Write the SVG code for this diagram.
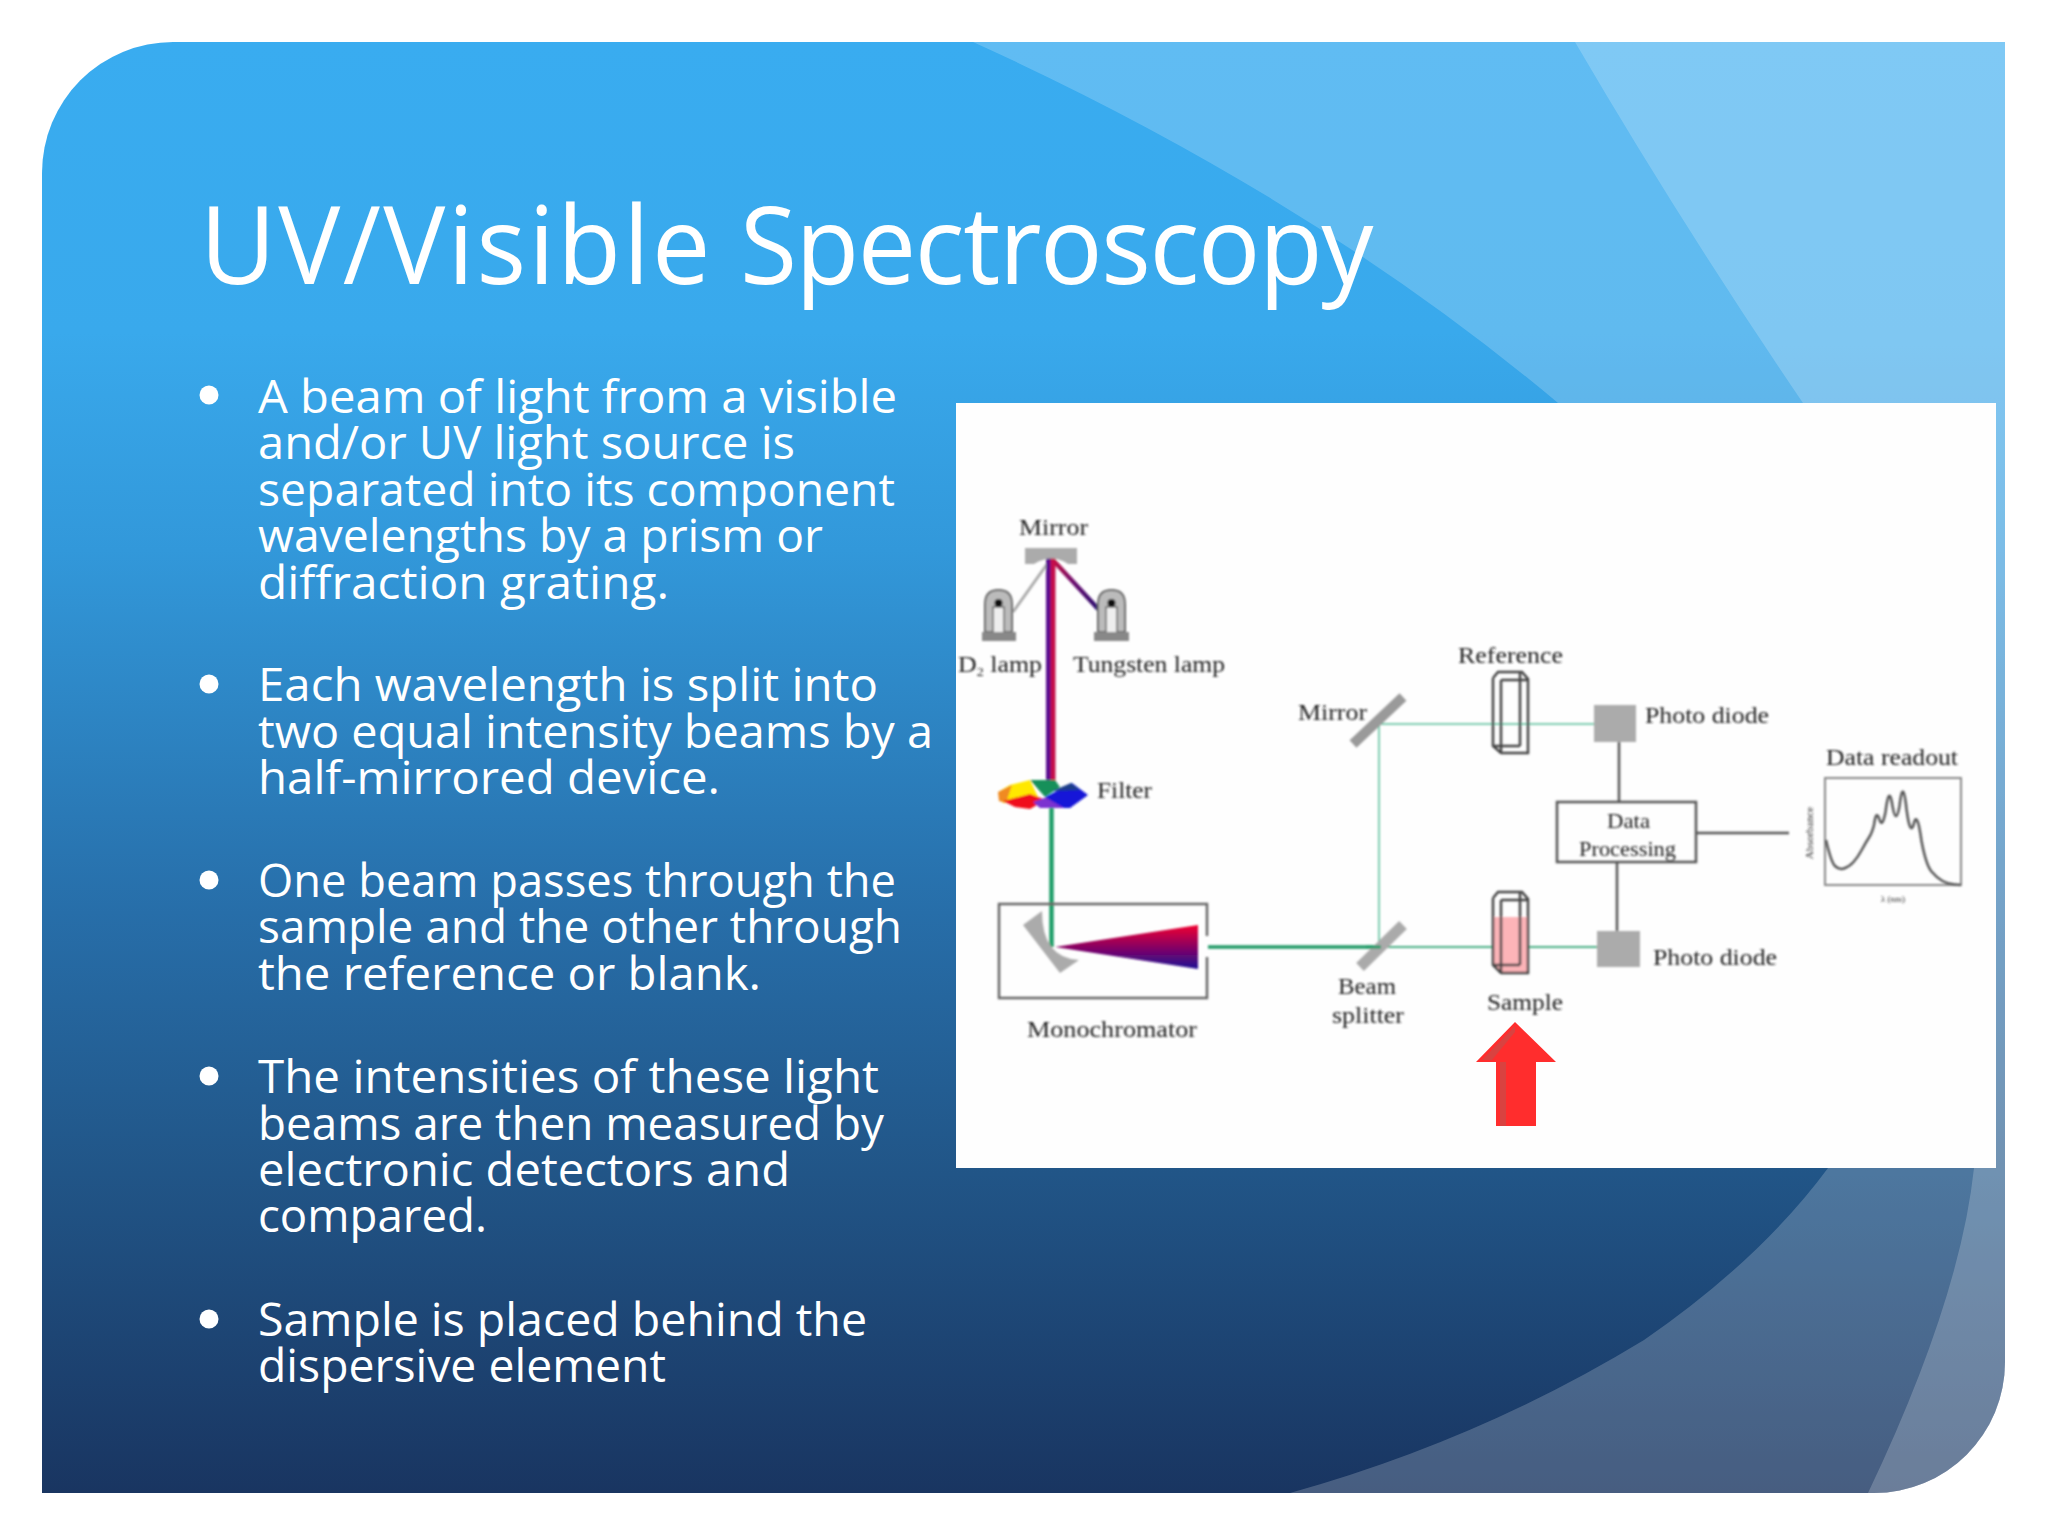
<svg xmlns="http://www.w3.org/2000/svg" width="2048" height="1536" viewBox="0 0 2048 1536">
<defs>
<linearGradient id="bg" x1="0" y1="42" x2="0" y2="1493" gradientUnits="userSpaceOnUse">
<stop offset="0" stop-color="#39ACF0"/><stop offset="0.2" stop-color="#39A9EC"/><stop offset="0.35" stop-color="#3298DA"/><stop offset="0.6" stop-color="#276EA9"/><stop offset="0.78" stop-color="#215587"/><stop offset="1" stop-color="#193561"/>
</linearGradient>
<linearGradient id="prism" x1="0" y1="925" x2="0" y2="969" gradientUnits="userSpaceOnUse"><stop offset="0" stop-color="#F20030"/><stop offset="1" stop-color="#1E0A95"/></linearGradient>
<linearGradient id="tung" x1="1052" y1="559" x2="1101" y2="612" gradientUnits="userSpaceOnUse"><stop offset="0" stop-color="#C8103C"/><stop offset="0.45" stop-color="#6A1070"/><stop offset="1" stop-color="#241070"/></linearGradient>
<clipPath id="slide"><path d="M173 42H2005V1362A131 131 0 0 1 1874 1493H42V173A131 131 0 0 1 173 42Z"/></clipPath>
<filter id="soft" x="-5%" y="-5%" width="110%" height="110%"><feGaussianBlur stdDeviation="0.9"/></filter>
<style>
.t{font-family:"Open Sans","Liberation Sans",sans-serif;fill:#fff}
.b{font-size:46px}
.l{font-family:"Liberation Serif","Times New Roman",serif;font-size:24px;fill:#222}
.g{fill:#ababab}
.c{fill:none;stroke:#555;stroke-width:2.5}
.w{fill:none;stroke:#444;stroke-width:2.5}
</style>
</defs>
<rect width="2048" height="1536" fill="#fff"/>
<g id="background" clip-path="url(#slide)">
<rect x="42" y="42" width="1963" height="1451" fill="url(#bg)"/>
<path d="M973 42Q1310 195 1558 403H1996V1168H1828Q1760 1260 1644 1340Q1480 1440 1290 1493H2005V42Z" fill="#fff" fill-opacity="0.2"/>
<path d="M1575 42Q1682 225 1803 403H1996V1168H1974Q1960 1300 1868 1493H2005V42Z" fill="#fff" fill-opacity="0.2"/>
</g>
<text id="title" class="t" x="200" y="284" font-size="108" textLength="1172" lengthAdjust="spacingAndGlyphs"><tspan letter-spacing="2.500">UV/Visible</tspan> <tspan letter-spacing="-1.500">Spectroscopy</tspan></text>
<g id="bullets">
<circle cx="209" cy="395" r="9.5" fill="#fff"/><circle cx="209" cy="684" r="9.5" fill="#fff"/><circle cx="209" cy="880" r="9.5" fill="#fff"/><circle cx="209" cy="1076" r="9.5" fill="#fff"/><circle cx="209" cy="1319" r="9.5" fill="#fff"/>
<g class="t b">
<text x="258" y="413" textLength="639" lengthAdjust="spacingAndGlyphs">A beam of light from a visible</text>
<text x="258" y="459" textLength="537" lengthAdjust="spacingAndGlyphs">and/or UV light source is</text>
<text x="258" y="506" textLength="637" lengthAdjust="spacingAndGlyphs">separated into its component</text>
<text x="258" y="552" textLength="565" lengthAdjust="spacingAndGlyphs">wavelengths by a prism or</text>
<text x="258" y="599" textLength="411" lengthAdjust="spacingAndGlyphs">diffraction grating.</text>
<text x="258" y="701" textLength="620" lengthAdjust="spacingAndGlyphs">Each wavelength is split into</text>
<text x="258" y="748" textLength="675" lengthAdjust="spacingAndGlyphs">two equal intensity beams by a</text>
<text x="258" y="794" textLength="462" lengthAdjust="spacingAndGlyphs">half-mirrored device.</text>
<text x="258" y="897" textLength="638" lengthAdjust="spacingAndGlyphs">One beam passes through the</text>
<text x="258" y="943" textLength="644" lengthAdjust="spacingAndGlyphs">sample and the other through</text>
<text x="258" y="990" textLength="503" lengthAdjust="spacingAndGlyphs">the reference or blank.</text>
<text x="258" y="1093" textLength="621" lengthAdjust="spacingAndGlyphs">The intensities of these light</text>
<text x="258" y="1140" textLength="626" lengthAdjust="spacingAndGlyphs">beams are then measured by</text>
<text x="258" y="1186" textLength="532" lengthAdjust="spacingAndGlyphs">electronic detectors and</text>
<text x="258" y="1232" textLength="229" lengthAdjust="spacingAndGlyphs">compared.</text>
<text x="258" y="1336" textLength="609" lengthAdjust="spacingAndGlyphs">Sample is placed behind the</text>
<text x="258" y="1382" textLength="408" lengthAdjust="spacingAndGlyphs">dispersive element</text>
</g>
</g>
<rect id="panel" x="956" y="403" width="1040" height="765" fill="#fefefe"/>
<g id="picture" filter="url(#soft)">
<g id="connectors">
<path d="M1050 560L1013 612" stroke="#aaa" stroke-width="3" fill="none"/>
<path d="M1052 559L1101 612" stroke="url(#tung)" stroke-width="4.500" fill="none"/>
<path d="M1048.500 558V787" stroke="#5A0A90" stroke-width="5" fill="none"/>
<path d="M1053 558V787" stroke="#C4104C" stroke-width="5" fill="none"/>
<path d="M1051.500 806V947" stroke="#1F9E68" stroke-width="4.500" fill="none"/>
<path d="M1208 947H1381" stroke="#1F9A66" stroke-width="3.500" fill="none"/>
<path d="M1381 947H1597" stroke="#4CAF85" stroke-width="2" fill="none"/>
<path d="M1379 947V724H1594" stroke="#7FCDB0" stroke-width="2" fill="none"/>
<path class="c" d="M1619 742V802M1617 862V931M1696 833H1789"/>
</g>
<g id="mirror-top"><path class="g" d="M1025 548H1077V564H1068Q1052 553 1034 564H1025Z"/><text class="l" x="1019" y="535" textLength="69" lengthAdjust="spacingAndGlyphs">Mirror</text></g>
<g id="d2-lamp">
<path d="M985 632V604Q985 590 998.500 590Q1012 590 1012 604V632Z" fill="#bbb" stroke="#666" stroke-width="2"/>
<path d="M993 632V607H1004V632" fill="#eee" stroke="#666" stroke-width="1.500"/><circle cx="998.500" cy="603" r="4" fill="#111"/>
<rect x="982" y="632" width="34" height="9" fill="#888"/>
<text class="l" x="958" y="672" textLength="84" lengthAdjust="spacingAndGlyphs">D<tspan font-size="13" dy="4">2</tspan><tspan dy="-4"> lamp</tspan></text>
</g>
<g id="tungsten-lamp">
<path d="M1098 632V604Q1098 590 1111.500 590Q1125 590 1125 604V632Z" fill="#bbb" stroke="#666" stroke-width="2"/>
<path d="M1106 632V607H1117V632" fill="#eee" stroke="#666" stroke-width="1.500"/><circle cx="1111.500" cy="603" r="4" fill="#111"/>
<rect x="1094" y="632" width="35" height="9" fill="#888"/>
<text class="l" x="1073" y="672" textLength="152" lengthAdjust="spacingAndGlyphs">Tungsten lamp</text>
</g>
<g id="filter">
<path d="M1000 791L1010 785L1030 780L1038 797L1003 803Z" fill="#FFE800"/>
<path d="M998 792L1012 785L1006 803L999 801Z" fill="#F08A20"/>
<path d="M1003 801L1030 794L1046 800L1030 809L1015 807Z" fill="#F0101A"/>
<path d="M1030 780L1055 780L1060 787L1045 797Z" fill="#14905A"/>
<path d="M1033 802L1050 796L1064 808H1040Z" fill="#7B30D0"/>
<path d="M1045 797L1072 783L1088 795L1070 808H1064Z" fill="#1414D8"/>
<path d="M1052 791L1071 783L1080 790Z" fill="#1E3E8A"/>
<text class="l" x="1097" y="798" textLength="55" lengthAdjust="spacingAndGlyphs">Filter</text>
</g>
<g id="monochromator">
<path d="M1207 936V904H999V998H1207V957" fill="none" stroke="#666" stroke-width="2.500"/>
<path class="g" d="M1042 911L1023 925L1060 973L1079 960Q1042 958 1042 911Z"/>
<path d="M1055 947L1198 925V969Z" fill="url(#prism)"/>
<text class="l" x="1027" y="1037" textLength="170" lengthAdjust="spacingAndGlyphs">Monochromator</text>
</g>
<g id="beam-splitter">
<path d="M1403 925L1360 967" stroke="#aaa" stroke-width="11" fill="none"/>
<path d="M1381 947H1366" stroke="#1F9A66" stroke-width="3" fill="none"/>
<text class="l" x="1338" y="994" textLength="58" lengthAdjust="spacingAndGlyphs">Beam</text><text class="l" x="1332" y="1023" textLength="72" lengthAdjust="spacingAndGlyphs">splitter</text>
</g>
<g id="mirror-right">
<path d="M1403 697L1353 744" stroke="#9a9a9a" stroke-width="10" fill="none"/>
<text class="l" x="1298" y="720" textLength="69" lengthAdjust="spacingAndGlyphs">Mirror</text>
</g>
<g id="reference">
<path class="w" d="M1493 678L1498 672H1522L1528 679V753H1501L1493 746V678M1501 680V753M1501 680H1528M1493 746H1520M1520 672V746"/>
<text class="l" x="1458" y="663" textLength="105" lengthAdjust="spacingAndGlyphs">Reference</text>
</g>
<g id="sample">
<path d="M1493 917H1528V973H1502L1493 965Z" fill="#FDB4B8"/>
<path class="w" d="M1493 898L1498 892H1522L1528 899V973H1501L1493 965V898M1501 900V973M1501 900H1528M1493 965H1520M1520 892V965"/>
<text class="l" x="1487" y="1010" textLength="76" lengthAdjust="spacingAndGlyphs">Sample</text>
</g>
<g id="photo-diode-top"><rect class="g" x="1594" y="705" width="42" height="37"/><text class="l" x="1645" y="723" textLength="124" lengthAdjust="spacingAndGlyphs">Photo diode</text></g>
<g id="photo-diode-bottom"><rect class="g" x="1597" y="931" width="43" height="36"/><text class="l" x="1653" y="965" textLength="124" lengthAdjust="spacingAndGlyphs">Photo diode</text></g>
<g id="data-processing">
<rect x="1557" y="802" width="139" height="60" fill="none" stroke="#555" stroke-width="2.500"/>
<text class="l" x="1607" y="828" textLength="43" lengthAdjust="spacingAndGlyphs" style="font-size:22px">Data</text>
<text class="l" x="1579" y="856" textLength="97" lengthAdjust="spacingAndGlyphs" style="font-size:22px">Processing</text>
</g>
<g id="data-readout">
<text class="l" x="1826" y="765" textLength="132" lengthAdjust="spacingAndGlyphs">Data readout</text>
<rect x="1825" y="778" width="136" height="107" fill="none" stroke="#888" stroke-width="2"/>
<path class="c" stroke-linejoin="round" d="M1826 840Q1831 862 1835 866Q1839 870 1844 868.500Q1849 867 1853.500 862Q1858 857 1862 849.500Q1866 842 1869 837.500Q1872 833 1874 825Q1876 810 1879 818Q1882 830 1885.500 812Q1889 783 1892.500 806Q1896 826 1899.500 806Q1903 776 1906.500 809Q1910 836 1913.500 825Q1917 808 1921.500 841Q1926 865 1931.500 871.500Q1937 878 1942.500 881Q1948 884 1954.500 884.500L1961 885"/>
<text x="1813" y="833" transform="rotate(-90 1813 833)" text-anchor="middle" font-family="Liberation Serif, serif" font-size="11" fill="#333">Absorbance</text>
<text x="1893" y="902" text-anchor="middle" font-family="Liberation Serif, serif" font-size="9" fill="#333">λ (nm)</text>
</g>
</g>
<g id="red-arrow"><path d="M1515 1022L1556 1062H1536V1126H1496V1062H1476Z" fill="#FF2D2D"/><path d="M1500 1062H1506V1126H1500ZM1482 1060L1515 1026V1032L1492 1060Z" fill="#C0504D" fill-opacity="0.6"/></g>
</svg>
